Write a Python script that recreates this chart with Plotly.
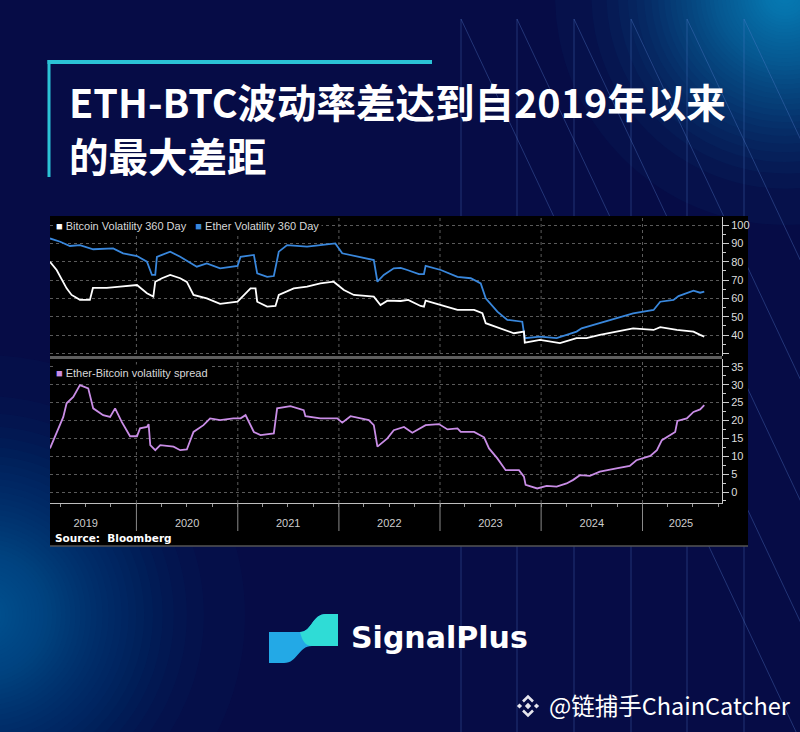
import plotly.graph_objects as go

# ---------------- data ----------------
BTC_DATES = ["2019-02-23","2019-03-19","2019-04-24","2019-05-12","2019-06-11","2019-07-17","2019-07-28",
             "2019-09-16","2019-11-03","2020-01-03","2020-02-08","2020-03-02","2020-03-09","2020-04-02",
             "2020-05-02","2020-06-07","2020-07-01","2020-07-25","2020-09-11","2020-10-29","2020-12-31",
             "2021-01-23","2021-02-16","2021-03-06","2021-03-12","2021-04-17","2021-05-17","2021-05-29",
             "2021-07-22","2021-09-08","2021-10-26","2021-12-13","2022-01-19","2022-02-24","2022-05-07",
             "2022-05-31","2022-06-25","2022-08-12","2022-09-08","2022-10-23","2022-11-04","2022-11-10",
             "2023-01-04","2023-03-05","2023-05-04","2023-06-03","2023-06-15","2023-08-08","2023-09-25",
             "2023-10-31","2023-11-03","2023-12-28","2024-03-09","2024-05-08","2024-06-13","2024-07-31",
             "2024-09-29","2024-11-28","2025-02-10","2025-03-06","2025-05-05","2025-07-04","2025-07-28",
             "2025-08-12"]
BTC_VOL = [80.0,75.5,65.5,61.9,59.2,59.2,65.7,
           65.7,66.4,67.3,62.8,61.0,69.1,71.0,
           72.8,71.0,69.0,61.9,60.0,57.0,58.2,
           61.9,65.5,65.5,58.2,55.5,55.9,61.9,
           65.5,66.4,68.2,69.1,64.6,61.9,61.0,
           56.4,58.8,58.6,59.2,55.9,55.5,58.8,
           56.4,53.7,53.7,51.9,46.5,43.7,41.0,
           41.9,35.9,37.4,35.6,38.3,38.3,40.1,
           41.9,43.7,42.8,44.3,42.8,41.9,40.1,
           39.2]

ETH_DATES = ["2019-02-23","2019-04-01","2019-05-06","2019-06-11","2019-07-29","2019-10-09","2019-11-14",
             "2020-01-03","2020-02-08","2020-02-26","2020-03-09","2020-03-15","2020-05-02","2020-06-07",
             "2020-08-06","2020-09-11","2020-10-29","2020-12-31","2021-01-11","2021-02-28","2021-03-12",
             "2021-04-17","2021-05-11","2021-05-29","2021-06-28","2021-09-08","2021-10-26","2021-12-19",
             "2022-01-13","2022-03-08","2022-05-07","2022-05-20","2022-06-12","2022-07-18","2022-08-12",
             "2022-09-05","2022-10-17","2022-11-04","2022-11-10","2023-01-04","2023-03-05","2023-04-22",
             "2023-05-28","2023-06-15","2023-07-27","2023-09-01","2023-10-25","2023-11-03","2023-12-28",
             "2024-02-26","2024-05-08","2024-05-26","2024-07-31","2024-09-29","2024-11-28","2025-02-10",
             "2025-03-06","2025-04-23","2025-05-11","2025-07-04","2025-07-28","2025-08-12"]
ETH_VOL = [92.7,90.9,88.6,89.1,86.8,87.3,84.6,
           83.1,80.0,72.8,72.8,82.7,85.5,82.7,
           77.3,79.1,76.4,77.7,82.7,83.7,73.7,
           71.8,72.2,85.5,89.1,88.2,89.1,90.0,
           84.6,82.7,80.9,69.1,72.8,76.4,76.7,
           75.5,73.3,73.3,77.8,75.5,71.8,71.0,
           68.2,60.1,52.8,48.3,47.3,38.3,39.2,
           38.3,41.9,43.7,46.5,49.2,51.9,53.7,
           58.2,59.2,61.3,64.2,63.1,63.7]

SPREAD_DATES = ["2019-02-23","2019-03-13","2019-04-12","2019-04-24","2019-05-18","2019-06-11","2019-07-11",
                "2019-07-29","2019-09-03","2019-09-28","2019-10-16","2019-11-09","2019-12-09","2020-01-03",
                "2020-01-14","2020-02-08","2020-02-14","2020-02-20","2020-03-09","2020-03-27","2020-05-14",
                "2020-06-07","2020-07-01","2020-07-25","2020-08-30","2020-09-23","2020-10-29","2020-12-16",
                "2021-01-11","2021-01-29","2021-02-28","2021-03-24","2021-05-11","2021-05-23","2021-07-10",
                "2021-08-27","2021-09-02","2021-10-26","2021-12-26","2022-01-13","2022-02-12","2022-04-19",
                "2022-05-07","2022-05-20","2022-06-25","2022-07-18","2022-08-24","2022-09-23","2022-10-23",
                "2022-11-10","2022-12-28","2023-01-28","2023-03-05","2023-03-17","2023-05-04","2023-06-09",
                "2023-06-27","2023-07-27","2023-08-26","2023-10-13","2023-10-31","2023-11-06","2023-12-18",
                "2024-01-21","2024-02-26","2024-04-02","2024-04-26","2024-05-20","2024-06-25","2024-07-31",
                "2024-09-29","2024-11-16","2024-12-10","2025-01-29","2025-02-22","2025-03-12","2025-04-29",
                "2025-05-07","2025-06-10","2025-07-04","2025-07-28","2025-08-12"]
SPREAD = [12.2,15.4,21.0,24.8,26.6,29.9,29.0,
          23.4,21.5,21.0,23.4,19.6,15.6,15.6,
          17.8,18.2,19.0,13.1,11.7,13.1,12.7,
          11.7,11.9,16.8,18.7,20.6,20.1,20.6,
          20.6,21.5,16.8,15.9,16.4,23.4,24.0,
          22.9,21.2,20.6,20.6,19.4,21.2,20.1,
          18.7,12.7,15.0,17.3,18.2,16.6,17.8,
          18.7,19.0,17.5,17.8,16.8,16.8,15.3,
          12.2,9.4,6.1,6.1,4.3,2.0,1.0,
          1.7,1.5,2.4,3.4,4.7,4.5,5.7,
          6.6,7.3,8.9,10.1,11.7,14.5,16.8,
          19.9,20.6,22.4,23.1,24.3]

X_RANGE = ["2019-02-23", "2025-10-15"]
YEAR_STARTS = ["2020-01-01","2021-01-01","2022-01-01","2023-01-01","2024-01-01","2025-01-01"]
YEAR_MIDS = ["2019-07-02","2020-07-02","2021-07-02","2022-07-02","2023-07-02","2024-07-02","2025-05-20"]
YEAR_LABELS = ["2019","2020","2021","2022","2023","2024","2025"]
TOP_TICKS = [30,40,50,60,70,80,90,100]
TOP_LABELS = ["","40","50","60","70","80","90","100"]
BOT_TICKS = [0,5,10,15,20,25,30,35]

TITLE_1 = "ETH-BTC波动率差达到自2019年以来"
TITLE_2 = "的最大差距"
LEG_BTC = "Bitcoin Volatility 360 Day"
LEG_ETH = "Ether Volatility 360 Day"
LEG_SPREAD = "Ether-Bitcoin volatility spread"

W, H = 800, 732
def px(x): return x / W
def py(y): return 1 - y / H

BG = "#060c46"
C_BTC = "#ffffff"
C_ETH = "#3987dc"
C_SPR = "#c98de6"

fig = go.Figure()
fig.add_trace(go.Scatter(x=ETH_DATES, y=ETH_VOL, xaxis="x2", yaxis="y", mode="lines",
                         line=dict(color=C_ETH, width=1.8), showlegend=False, hoverinfo="skip"))
fig.add_trace(go.Scatter(x=BTC_DATES, y=BTC_VOL, xaxis="x2", yaxis="y", mode="lines",
                         line=dict(color=C_BTC, width=1.8), showlegend=False, hoverinfo="skip"))
fig.add_trace(go.Scatter(x=SPREAD_DATES, y=SPREAD, xaxis="x", yaxis="y2", mode="lines",
                         line=dict(color=C_SPR, width=1.8), showlegend=False, hoverinfo="skip"))

shapes = []
# soft glows (stacked translucent discs)
def glow(cx, cy, rmax, rgb, n, a):
    for i in range(n):
        r = rmax * (1 - (i / n) ** 0.5)
        shapes.append(dict(type="circle", xref="paper", yref="paper",
                           x0=px(cx - r), x1=px(cx + r), y0=py(cy + r), y1=py(cy - r),
                           fillcolor=f"rgba({rgb[0]},{rgb[1]},{rgb[2]},{a})",
                           line=dict(width=0), layer="below"))
glow(785, -5, 230, (25, 180, 220), 40, 0.035)
glow(-15, 615, 260, (15, 140, 200), 40, 0.033)

# decorative lines
for vx in [461, 517, 574, 631, 687, 744]:
    shapes.append(dict(type="line", xref="paper", yref="paper", x0=px(vx), x1=px(vx),
                       y0=py(19), y1=py(732), line=dict(color="rgba(90,130,210,0.35)", width=1), layer="below"))
    shapes.append(dict(type="line", xref="paper", yref="paper", x0=px(vx), x1=px(vx + 0.47 * 713),
                       y0=py(19), y1=py(732), line=dict(color="rgba(90,130,210,0.35)", width=1), layer="below"))

# black chart panel
shapes.append(dict(type="rect", xref="paper", yref="paper", x0=px(50), x1=px(748), y0=py(546), y1=py(216),
                   fillcolor="#000000", line=dict(width=0), layer="below"))
shapes.append(dict(type="line", xref="paper", yref="paper", x0=px(50), x1=px(748), y0=py(546), y1=py(546),
                   line=dict(color="#555555", width=1.5), layer="below"))

# title bracket
shapes.append(dict(type="line", xref="paper", yref="paper", x0=px(47.5), x1=px(432), y0=py(62), y1=py(62),
                   line=dict(color="#2bc3d6", width=4)))
shapes.append(dict(type="line", xref="paper", yref="paper", x0=px(49), x1=px(49), y0=py(60), y1=py(177),
                   line=dict(color="#2bc3d6", width=3)))

# separator between panels
shapes.append(dict(type="line", xref="paper", yref="paper", x0=px(50), x1=px(722), y0=py(357.5), y1=py(357.5),
                   line=dict(color="#5e5e5e", width=3)))

# year boundary gridlines and separators
for d in YEAR_STARTS:
    shapes.append(dict(type="line", xref="x", yref="paper", x0=d, x1=d, y0=py(503), y1=py(217),
                       line=dict(color="#5c5c5c", width=1, dash="dot"), layer="below"))
    shapes.append(dict(type="line", xref="x", yref="paper", x0=d, x1=d, y0=py(503), y1=py(531),
                       line=dict(color="#8a8a8a", width=1)))

# SignalPlus icon
def path(points):
    s = ""
    for i, p in enumerate(points):
        if p[0] == "C":
            s += " C %f,%f %f,%f %f,%f" % (px(p[1]), py(p[2]), px(p[3]), py(p[4]), px(p[5]), py(p[6]))
        else:
            s += ("M" if i == 0 else " L") + " %f,%f" % (px(p[0]), py(p[1]))
    return s + " Z"

shapes.append(dict(type="path", xref="paper", yref="paper", layer="above",
                   path=path([(269, 632), (300, 632), ("C", 312, 632, 312, 614, 326, 614), (338, 614),
                              (338, 646), (312, 646), ("C", 298, 646, 298, 663, 284, 663), (269, 663)]),
                   fillcolor="#23a9e6", line=dict(width=0)))
shapes.append(dict(type="path", xref="paper", yref="paper", layer="above",
                   path=path([(300, 632), ("C", 312, 632, 312, 614, 326, 614), (338, 614),
                              (338, 646), (312, 646), ("C", 305, 646, 302, 640, 300, 632)]),
                   fillcolor="#2fdcd6", line=dict(width=0)))

# watermark icon (diamond)
cx, cy = 528, 706
def dia(x, y, r):
    return path([(x, y - r), (x + r, y), (x, y + r), (x - r, y)])
for (dx, dy, r) in [(0, 0, 3.2), (-8.5, 0, 2.6), (8.5, 0, 2.6)]:
    shapes.append(dict(type="path", xref="paper", yref="paper", path=dia(cx + dx, cy + dy, r),
                       fillcolor="#e6e6ee", line=dict(width=0)))
shapes.append(dict(type="path", xref="paper", yref="paper",
                   path="M %f,%f L %f,%f L %f,%f" % (px(cx - 5), py(cy - 4.5), px(cx), py(cy - 9.5), px(cx + 5), py(cy - 4.5)),
                   line=dict(color="#e6e6ee", width=2.6)))
shapes.append(dict(type="path", xref="paper", yref="paper",
                   path="M %f,%f L %f,%f L %f,%f" % (px(cx - 5), py(cy + 4.5), px(cx), py(cy + 9.5), px(cx + 5), py(cy + 4.5)),
                   line=dict(color="#e6e6ee", width=2.6)))

annotations = [
    dict(text="<b>" + TITLE_1 + "</b>", x=px(67), y=py(100), xref="paper", yref="paper", xanchor="left",
         yanchor="middle", showarrow=False, font=dict(family="Noto Sans CJK SC", size=39.5, color="#ffffff")),
    dict(text="<b>" + TITLE_2 + "</b>", x=px(67), y=py(155), xref="paper", yref="paper", xanchor="left",
         yanchor="middle", showarrow=False, font=dict(family="Noto Sans CJK SC", size=39.5, color="#ffffff")),
    dict(text="<span style='color:%s'>■</span> %s   <span style='color:%s'>■</span> %s" % (C_BTC, LEG_BTC, C_ETH, LEG_ETH),
         x=px(53), y=py(226), xref="paper", yref="paper", xanchor="left", yanchor="middle", showarrow=False,
         bgcolor="#000000", borderpad=2, font=dict(family="Liberation Sans", size=11, color="#d8d8d8")),
    dict(text="<span style='color:%s'>■</span> %s" % (C_SPR, LEG_SPREAD),
         x=px(53), y=py(373), xref="paper", yref="paper", xanchor="left", yanchor="middle", showarrow=False,
         bgcolor="#000000", borderpad=2, font=dict(family="Liberation Sans", size=11, color="#d8d8d8")),
    dict(text="<b>Source:  Bloomberg</b>", x=px(53), y=py(538), xref="paper", yref="paper", xanchor="left",
         yanchor="middle", showarrow=False, font=dict(family="DejaVu Sans", size=10.5, color="#ffffff")),
    dict(text="<b>SignalPlus</b>", x=px(349), y=py(637), xref="paper", yref="paper", xanchor="left",
         yanchor="middle", showarrow=False, font=dict(family="DejaVu Sans", size=30, color="#ffffff")),
    dict(text="@链捕手ChainCatcher", x=px(793), y=py(705), xref="paper", yref="paper", xanchor="right",
         yanchor="middle", showarrow=False, font=dict(family="Noto Sans CJK SC", size=23.5, color="#ffffff")),
]

axis_font = dict(family="Liberation Sans", size=11, color="#dddddd")
fig.update_layout(
    width=W, height=H, autosize=False,
    margin=dict(l=0, r=0, t=0, b=0),
    paper_bgcolor=BG, plot_bgcolor="#000000",
    showlegend=False,
    xaxis=dict(domain=[px(50), px(722)], anchor="y2", type="date", range=X_RANGE,
               tickmode="array", tickvals=YEAR_MIDS, ticktext=YEAR_LABELS, ticks="",
               showgrid=False, zeroline=False, showline=True, linecolor="#bdbdbd", linewidth=1,
               tickfont=dict(family="Liberation Sans", size=11, color="#cccccc"), ticklabelstandoff=10,
               minor=dict(ticks="outside", ticklen=3, tickcolor="#999999", dtick="M3",
                          tick0="2019-01-01", showgrid=False)),
    xaxis2=dict(domain=[px(50), px(722)], anchor="y", matches="x", type="date",
                showticklabels=False, showgrid=False, zeroline=False, ticks="", showline=False),
    yaxis=dict(domain=[py(356), py(217)], anchor="x2", side="right", range=[28.6, 104.4],
               tickmode="array", tickvals=TOP_TICKS, ticktext=TOP_LABELS,
               showgrid=True, gridcolor="#5a5a5a", griddash="dot", gridwidth=1, zeroline=False,
               showline=True, linecolor="#cccccc", linewidth=1, ticks="outside", ticklen=6, tickcolor="#cccccc",
               minor=dict(ticks="outside", ticklen=3, tickcolor="#cccccc", dtick=5, tick0=0, showgrid=False),
               tickfont=axis_font),
    yaxis2=dict(domain=[py(503), py(359)], anchor="x", side="right", range=[-3.07, 37.2],
                tickmode="array", tickvals=BOT_TICKS,
                showgrid=True, gridcolor="#5a5a5a", griddash="dot", gridwidth=1, zeroline=False,
                showline=True, linecolor="#cccccc", linewidth=1, ticks="outside", ticklen=6, tickcolor="#cccccc",
                minor=dict(ticks="outside", ticklen=3, tickcolor="#cccccc", dtick=2.5, tick0=0, showgrid=False),
                tickfont=axis_font),
    shapes=shapes,
    annotations=annotations,
)

fig.write_html("out.html", config={"displayModeBar": False},
               post_script="document.body.style.margin='0';document.body.style.overflow='hidden';")
